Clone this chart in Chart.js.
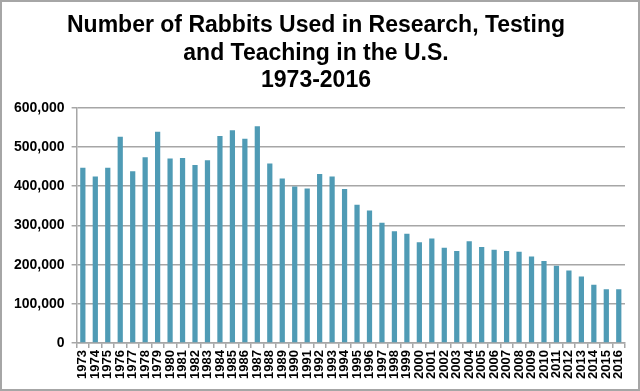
<!DOCTYPE html>
<html>
<head>
<meta charset="utf-8">
<script src="https://cdn.jsdelivr.net/npm/chart.js@4"></script>
<style>
    html, body { margin: 0; padding: 0; background: #fff; }
    #wrap {
        width: 640px;
        height: 391px;
        box-sizing: border-box;
        border: 2px solid #a6a6a6;
        position: relative;
    }
</style>
</head>
<body>
<div id="wrap"><canvas id="rabbit-chart"></canvas></div>
<script>
// ----- Data -----
const years = [
    '1973', '1974', '1975', '1976', '1977', '1978', '1979', '1980', '1981', '1982', '1983',
    '1984', '1985', '1986', '1987', '1988', '1989', '1990', '1991', '1992', '1993', '1994',
    '1995', '1996', '1997', '1998', '1999', '2000', '2001', '2002', '2003', '2004', '2005',
    '2006', '2007', '2008', '2009', '2010', '2011', '2012', '2013', '2014', '2015', '2016'
];
const rabbits = [
    447000, 425000, 447000, 526000, 438000, 474000, 539000, 471000, 472000, 454000, 466000,
    528000, 543000, 521000, 553000, 458000, 420000, 399000, 394000, 431000, 425000, 393000,
    353000, 338000, 307000, 285000, 279000, 257000, 267000, 243000, 235000, 260000, 245000,
    238000, 235000, 233000, 221000, 209000, 197000, 185000, 170000, 149000, 137000, 137000
];
const titleLines = [
    'Number of Rabbits Used in Research, Testing',
    'and Teaching in the U.S.',
    '1973-2016'
];

// ----- Styles -----
const barColor = '#4f9bb5';
const gridColor = '#a6a6a6';
const fontFamily = "'Liberation Sans', Arial, sans-serif";

// ----- Chart -----
const ctx = document.getElementById('rabbit-chart').getContext('2d');
const chart = new Chart(ctx, {
    type: 'bar',
    data: {
        labels: years,
        datasets: [{
            data: rabbits,
            backgroundColor: barColor,
            borderWidth: 0,
            barPercentage: 0.42,
            categoryPercentage: 1,
        }]
    },
    options: {
        responsive: true,
        maintainAspectRatio: false,
        animation: false,
        layout: {
            padding: { left: 5, right: 13, top: 0, bottom: 8 }
        },
        plugins: {
            legend: { display: false },
            tooltip: { enabled: false },
            title: {
                display: true,
                text: titleLines,
                color: '#000',
                font: { family: "'Liberation Sans Narrow', " + fontFamily, size: 23, weight: 'bold', lineHeight: 1.2 },
                padding: { top: 10, bottom: 13 },
            },
        },
        scales: {
            x: {
                grid: {
                    display: true,
                    drawOnChartArea: false,
                    color: gridColor,
                    lineWidth: 1.5,
                    tickLength: 5,
                },
                border: { color: gridColor, width: 1.5 },
                ticks: {
                    autoSkip: false,
                    minRotation: 90,
                    maxRotation: 90,
                    color: '#000',
                    padding: 2,
                    font: { family: fontFamily, size: 13, weight: 'bold' },
                },
            },
            y: {
                min: 0,
                max: 600000,
                grid: {
                    color: gridColor,
                    lineWidth: 1.5,
                    tickLength: 5,
                },
                border: { color: gridColor, width: 1.5 },
                ticks: {
                    stepSize: 100000,
                    color: '#000',
                    padding: 7,
                    font: { family: fontFamily, size: 14, weight: 'bold' },
                    callback: (value) => value.toLocaleString('en-US'),
                },
            },
        },
    },
});
</script>
</body>
</html>
